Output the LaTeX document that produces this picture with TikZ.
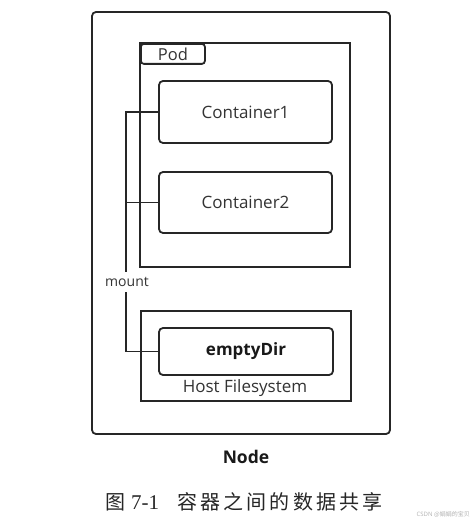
\documentclass[tikz,border=0pt]{standalone}
\usepackage{fontspec}
\setmainfont{Open Sans}
\newfontfamily\cjk[LetterSpace=16]{Noto Sans CJK SC}
\newfontfamily\cjkplain{Noto Sans CJK SC}
\newfontfamily\capserif{Liberation Serif}
\begin{document}
\begin{tikzpicture}[x=1pt,y=-1pt,
  box/.style={draw=black!85,line width=1.8pt,inner sep=0pt},
  rbox/.style={box,rounded corners=4pt},
  lbl/.style={inner sep=0pt,text=black!80},
  big/.style={font=\fontsize{17}{19}\selectfont},
  wire/.style={draw=black!85,line width=1.8pt}]
\useasboundingbox (0,0) rectangle (474,526);
\fill[white] (0,0) rectangle (474,526);
% Node outer box
\draw[rbox] (92,12) rectangle (390,434);
\node[lbl,font=\bfseries\fontsize{17.5}{19}\selectfont,text=black!90] (nodelbl) at (246,457) {Node};
% Pod
\draw[box] (140,43) rectangle (350,267);
\node[rbox,minimum width=64pt,minimum height=20pt,anchor=north west,rounded corners=3pt] (pod) at (140,43) {};
\node[lbl,font=\fontsize{16.5}{18}\selectfont] at (pod.center) {Pod};
% Containers
\node[rbox,big,minimum width=173pt,minimum height=62pt,text=black!80] (c1) at (245.5,112) {Container1};
\node[rbox,big,minimum width=173pt,minimum height=61pt,text=black!80] (c2) at (245.5,202.5) {Container2};
% Host filesystem
\node[box,minimum width=210pt,minimum height=90pt,anchor=north west] (host) at (140,310) {};
\node[lbl,big] (hostlbl) at (245,388) {Host Filesystem};
\node[rbox,minimum width=174pt,minimum height=47pt,font=\bfseries\fontsize{17}{19}\selectfont,text=black!90] (ed) at (246,351.5) {emptyDir};
% mount
\node[lbl,font=\fontsize{14}{16}\selectfont] (mount) at (127,282) {mount};
\coordinate (top) at (126,112);
\coordinate (mid) at (126,202.5);
\draw[wire] (c1.west) -- (top) -- (126,272);
\draw[wire] (c2.west) -- (mid);
\draw[wire] (126,292) -- (126,351.5) -- (ed.west);
% caption
\node[lbl,anchor=west,font=\fontsize{20}{22}\selectfont,text=black!85] (cap) at (105,502) {{\cjkplain 图}\hspace{6pt}{\capserif\fontsize{21}{22}\selectfont 7-1}\hspace{18pt}{\cjk 容器之间的数据共享}};
\node[lbl,anchor=east,font=\fontsize{6}{7}\selectfont,text=black!30] (wm) at (470,514) {CSDN {\cjkplain @娟娟的宝贝}};
\end{tikzpicture}
\end{document}
